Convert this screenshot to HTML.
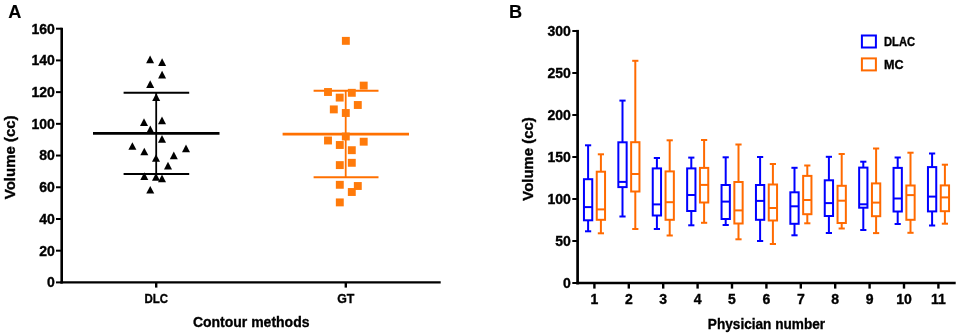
<!DOCTYPE html>
<html><head><meta charset="utf-8"><style>
html,body{margin:0;padding:0;background:#fff;width:957px;height:333px;overflow:hidden}
svg{display:block;will-change:transform}
text{font-family:"Liberation Sans", sans-serif;font-weight:bold;fill:#000;stroke:#000;stroke-width:0.35px}
</style></head><body>
<svg width="957" height="333" viewBox="0 0 957 333">
<rect width="957" height="333" fill="#fff"/>
<text x="8.2" y="17.8" font-size="18.2" text-anchor="start" style="stroke-width:0.1px">A</text>
<line x1="61.7" y1="27.8" x2="61.7" y2="283.6" stroke="#000" stroke-width="2.6" stroke-linecap="butt"/>
<line x1="60.4" y1="282.4" x2="440.7" y2="282.4" stroke="#000" stroke-width="2.4" stroke-linecap="butt"/>
<line x1="56.0" y1="282.4" x2="61.7" y2="282.4" stroke="#000" stroke-width="2.0" stroke-linecap="butt"/>
<text x="54.8" y="287.29999999999995" font-size="14" text-anchor="end">0</text>
<line x1="56.0" y1="250.68749999999997" x2="61.7" y2="250.68749999999997" stroke="#000" stroke-width="2.0" stroke-linecap="butt"/>
<text x="54.8" y="255.58749999999998" font-size="14" text-anchor="end">20</text>
<line x1="56.0" y1="218.97499999999997" x2="61.7" y2="218.97499999999997" stroke="#000" stroke-width="2.0" stroke-linecap="butt"/>
<text x="54.8" y="223.87499999999997" font-size="14" text-anchor="end">40</text>
<line x1="56.0" y1="187.2625" x2="61.7" y2="187.2625" stroke="#000" stroke-width="2.0" stroke-linecap="butt"/>
<text x="54.8" y="192.1625" font-size="14" text-anchor="end">60</text>
<line x1="56.0" y1="155.54999999999998" x2="61.7" y2="155.54999999999998" stroke="#000" stroke-width="2.0" stroke-linecap="butt"/>
<text x="54.8" y="160.45" font-size="14" text-anchor="end">80</text>
<line x1="56.0" y1="123.83749999999998" x2="61.7" y2="123.83749999999998" stroke="#000" stroke-width="2.0" stroke-linecap="butt"/>
<text x="54.8" y="128.73749999999998" font-size="14" text-anchor="end">100</text>
<line x1="56.0" y1="92.12499999999997" x2="61.7" y2="92.12499999999997" stroke="#000" stroke-width="2.0" stroke-linecap="butt"/>
<text x="54.8" y="97.02499999999998" font-size="14" text-anchor="end">120</text>
<line x1="56.0" y1="60.412499999999966" x2="61.7" y2="60.412499999999966" stroke="#000" stroke-width="2.0" stroke-linecap="butt"/>
<text x="54.8" y="65.31249999999997" font-size="14" text-anchor="end">140</text>
<line x1="56.0" y1="28.69999999999999" x2="61.7" y2="28.69999999999999" stroke="#000" stroke-width="2.0" stroke-linecap="butt"/>
<text x="54.8" y="33.59999999999999" font-size="14" text-anchor="end">160</text>
<line x1="156.2" y1="282.4" x2="156.2" y2="287.6" stroke="#000" stroke-width="2.4" stroke-linecap="butt"/>
<text x="156.2" y="302.8" font-size="13.4" text-anchor="middle" textLength="23.6" lengthAdjust="spacingAndGlyphs">DLC</text>
<line x1="345.8" y1="282.4" x2="345.8" y2="287.6" stroke="#000" stroke-width="2.4" stroke-linecap="butt"/>
<text x="345.8" y="302.8" font-size="13.4" text-anchor="middle" textLength="17.2" lengthAdjust="spacingAndGlyphs">GT</text>
<text x="251.2" y="326.8" font-size="14.7" text-anchor="middle" textLength="116.6" lengthAdjust="spacingAndGlyphs">Contour methods</text>
<text transform="translate(15.0,157.3) rotate(-90)" x="0" y="0" font-size="14.8" text-anchor="middle" textLength="83.8" lengthAdjust="spacingAndGlyphs">Volume (cc)</text>
<line x1="123.6" y1="92.8" x2="189.2" y2="92.8" stroke="#000" stroke-width="2.0" stroke-linecap="butt"/>
<line x1="123.6" y1="173.9" x2="189.2" y2="173.9" stroke="#000" stroke-width="2.0" stroke-linecap="butt"/>
<line x1="156.2" y1="92.8" x2="156.2" y2="173.9" stroke="#000" stroke-width="1.8" stroke-linecap="butt"/>
<line x1="93" y1="133.4" x2="219.5" y2="133.4" stroke="#000" stroke-width="2.7" stroke-linecap="butt"/>
<polygon points="146.10,63.30 154.10,63.30 150.10,55.60" fill="#000"/>
<polygon points="158.10,65.90 166.10,65.90 162.10,58.20" fill="#000"/>
<polygon points="158.10,78.45 166.10,78.45 162.10,70.75" fill="#000"/>
<polygon points="146.20,88.05 154.20,88.05 150.20,80.35" fill="#000"/>
<polygon points="152.20,101.05 160.20,101.05 156.20,93.35" fill="#000"/>
<polygon points="140.00,126.05 148.00,126.05 144.00,118.35" fill="#000"/>
<polygon points="158.00,124.15 166.00,124.15 162.00,116.45" fill="#000"/>
<polygon points="146.30,133.25 154.30,133.25 150.30,125.55" fill="#000"/>
<polygon points="158.00,142.65 166.00,142.65 162.00,134.95" fill="#000"/>
<polygon points="128.40,149.85 136.40,149.85 132.40,142.15" fill="#000"/>
<polygon points="140.30,155.35 148.30,155.35 144.30,147.65" fill="#000"/>
<polygon points="182.00,152.25 190.00,152.25 186.00,144.55" fill="#000"/>
<polygon points="152.00,161.85 160.00,161.85 156.00,154.15" fill="#000"/>
<polygon points="169.80,159.25 177.80,159.25 173.80,151.55" fill="#000"/>
<polygon points="164.00,169.55 172.00,169.55 168.00,161.85" fill="#000"/>
<polygon points="140.30,180.05 148.30,180.05 144.30,172.35" fill="#000"/>
<polygon points="152.00,180.65 160.00,180.65 156.00,172.95" fill="#000"/>
<polygon points="158.00,182.25 166.00,182.25 162.00,174.55" fill="#000"/>
<polygon points="146.25,193.60 154.25,193.60 150.25,185.90" fill="#000"/>
<line x1="313.6" y1="90.8" x2="378.5" y2="90.8" stroke="#FF7000" stroke-width="2.0" stroke-linecap="butt"/>
<line x1="313.6" y1="177.2" x2="378.5" y2="177.2" stroke="#FF7000" stroke-width="2.0" stroke-linecap="butt"/>
<line x1="345.7" y1="90.8" x2="345.7" y2="177.2" stroke="#FF7000" stroke-width="1.8" stroke-linecap="butt"/>
<line x1="282.6" y1="134.1" x2="409" y2="134.1" stroke="#FF7000" stroke-width="2.6" stroke-linecap="butt"/>
<rect x="341.90" y="36.90" width="7.9" height="7.9" fill="#FF7A0A"/>
<rect x="359.75" y="81.65" width="7.9" height="7.9" fill="#FF7A0A"/>
<rect x="324.05" y="88.05" width="7.9" height="7.9" fill="#FF7A0A"/>
<rect x="347.85" y="88.85" width="7.9" height="7.9" fill="#FF7A0A"/>
<rect x="335.75" y="93.65" width="7.9" height="7.9" fill="#FF7A0A"/>
<rect x="353.85" y="101.05" width="7.9" height="7.9" fill="#FF7A0A"/>
<rect x="329.85" y="105.45" width="7.9" height="7.9" fill="#FF7A0A"/>
<rect x="341.85" y="109.05" width="7.9" height="7.9" fill="#FF7A0A"/>
<rect x="341.85" y="132.55" width="7.9" height="7.9" fill="#FF7A0A"/>
<rect x="324.05" y="136.55" width="7.9" height="7.9" fill="#FF7A0A"/>
<rect x="359.75" y="137.75" width="7.9" height="7.9" fill="#FF7A0A"/>
<rect x="335.85" y="141.05" width="7.9" height="7.9" fill="#FF7A0A"/>
<rect x="347.85" y="146.25" width="7.9" height="7.9" fill="#FF7A0A"/>
<rect x="347.85" y="158.85" width="7.9" height="7.9" fill="#FF7A0A"/>
<rect x="335.85" y="161.15" width="7.9" height="7.9" fill="#FF7A0A"/>
<rect x="335.85" y="180.85" width="7.9" height="7.9" fill="#FF7A0A"/>
<rect x="353.85" y="182.05" width="7.9" height="7.9" fill="#FF7A0A"/>
<rect x="347.85" y="188.05" width="7.9" height="7.9" fill="#FF7A0A"/>
<rect x="335.85" y="198.45" width="7.9" height="7.9" fill="#FF7A0A"/>
<text x="508.9" y="17.8" font-size="18.2" text-anchor="start" style="stroke-width:0.1px">B</text>
<line x1="577.6" y1="29.9" x2="577.6" y2="284.4" stroke="#000" stroke-width="2.7" stroke-linecap="butt"/>
<line x1="576.3" y1="283.0" x2="955.7" y2="283.0" stroke="#000" stroke-width="2.6" stroke-linecap="butt"/>
<line x1="572.3" y1="283.0" x2="577.6" y2="283.0" stroke="#000" stroke-width="2.0" stroke-linecap="butt"/>
<text x="570.8" y="288.0" font-size="14" text-anchor="end">0</text>
<line x1="572.3" y1="241.0" x2="577.6" y2="241.0" stroke="#000" stroke-width="2.0" stroke-linecap="butt"/>
<text x="570.8" y="246.0" font-size="14" text-anchor="end">50</text>
<line x1="572.3" y1="199.0" x2="577.6" y2="199.0" stroke="#000" stroke-width="2.0" stroke-linecap="butt"/>
<text x="570.8" y="204.0" font-size="14" text-anchor="end">100</text>
<line x1="572.3" y1="157.0" x2="577.6" y2="157.0" stroke="#000" stroke-width="2.0" stroke-linecap="butt"/>
<text x="570.8" y="162.0" font-size="14" text-anchor="end">150</text>
<line x1="572.3" y1="115.0" x2="577.6" y2="115.0" stroke="#000" stroke-width="2.0" stroke-linecap="butt"/>
<text x="570.8" y="120.0" font-size="14" text-anchor="end">200</text>
<line x1="572.3" y1="73.0" x2="577.6" y2="73.0" stroke="#000" stroke-width="2.0" stroke-linecap="butt"/>
<text x="570.8" y="78.0" font-size="14" text-anchor="end">250</text>
<line x1="572.3" y1="31.0" x2="577.6" y2="31.0" stroke="#000" stroke-width="2.0" stroke-linecap="butt"/>
<text x="570.8" y="36.0" font-size="14" text-anchor="end">300</text>
<line x1="594.4" y1="283.0" x2="594.4" y2="288.6" stroke="#000" stroke-width="2.4" stroke-linecap="butt"/>
<text x="594.4" y="303.8" font-size="14" text-anchor="middle">1</text>
<line x1="628.8" y1="283.0" x2="628.8" y2="288.6" stroke="#000" stroke-width="2.4" stroke-linecap="butt"/>
<text x="628.8" y="303.8" font-size="14" text-anchor="middle">2</text>
<line x1="663.1999999999999" y1="283.0" x2="663.1999999999999" y2="288.6" stroke="#000" stroke-width="2.4" stroke-linecap="butt"/>
<text x="663.1999999999999" y="303.8" font-size="14" text-anchor="middle">3</text>
<line x1="697.5999999999999" y1="283.0" x2="697.5999999999999" y2="288.6" stroke="#000" stroke-width="2.4" stroke-linecap="butt"/>
<text x="697.5999999999999" y="303.8" font-size="14" text-anchor="middle">4</text>
<line x1="732.0" y1="283.0" x2="732.0" y2="288.6" stroke="#000" stroke-width="2.4" stroke-linecap="butt"/>
<text x="732.0" y="303.8" font-size="14" text-anchor="middle">5</text>
<line x1="766.4" y1="283.0" x2="766.4" y2="288.6" stroke="#000" stroke-width="2.4" stroke-linecap="butt"/>
<text x="766.4" y="303.8" font-size="14" text-anchor="middle">6</text>
<line x1="800.8" y1="283.0" x2="800.8" y2="288.6" stroke="#000" stroke-width="2.4" stroke-linecap="butt"/>
<text x="800.8" y="303.8" font-size="14" text-anchor="middle">7</text>
<line x1="835.1999999999999" y1="283.0" x2="835.1999999999999" y2="288.6" stroke="#000" stroke-width="2.4" stroke-linecap="butt"/>
<text x="835.1999999999999" y="303.8" font-size="14" text-anchor="middle">8</text>
<line x1="869.5999999999999" y1="283.0" x2="869.5999999999999" y2="288.6" stroke="#000" stroke-width="2.4" stroke-linecap="butt"/>
<text x="869.5999999999999" y="303.8" font-size="14" text-anchor="middle">9</text>
<line x1="904.0" y1="283.0" x2="904.0" y2="288.6" stroke="#000" stroke-width="2.4" stroke-linecap="butt"/>
<text x="904.0" y="303.8" font-size="14" text-anchor="middle">10</text>
<line x1="938.4" y1="283.0" x2="938.4" y2="288.6" stroke="#000" stroke-width="2.4" stroke-linecap="butt"/>
<text x="938.4" y="303.8" font-size="14" text-anchor="middle">11</text>
<text x="766.5" y="328.8" font-size="14.7" text-anchor="middle" textLength="117.3" lengthAdjust="spacingAndGlyphs">Physician number</text>
<text transform="translate(532.6,159) rotate(-90)" x="0" y="0" font-size="14.8" text-anchor="middle" textLength="83.3" lengthAdjust="spacingAndGlyphs">Volume (cc)</text>
<g stroke="#0000FF" stroke-width="2.0" fill="none">
<line x1="588.1" y1="145.3" x2="588.1" y2="179.2"/>
<line x1="588.1" y1="220.3" x2="588.1" y2="231.3"/>
<line x1="585.00" y1="145.3" x2="591.20" y2="145.3"/>
<line x1="585.00" y1="231.3" x2="591.20" y2="231.3"/>
<rect x="583.95" y="179.2" width="8.3" height="41.10"/>
<line x1="583.95" y1="207.1" x2="592.25" y2="207.1"/>
</g>
<g stroke="#FF6A00" stroke-width="2.0" fill="none">
<line x1="600.9" y1="154.3" x2="600.9" y2="171.7"/>
<line x1="600.9" y1="219.8" x2="600.9" y2="233.3"/>
<line x1="597.80" y1="154.3" x2="604.00" y2="154.3"/>
<line x1="597.80" y1="233.3" x2="604.00" y2="233.3"/>
<rect x="596.75" y="171.7" width="8.3" height="48.10"/>
<line x1="596.75" y1="209.4" x2="605.05" y2="209.4"/>
</g>
<g stroke="#0000FF" stroke-width="2.0" fill="none">
<line x1="622.5" y1="100.6" x2="622.5" y2="142.3"/>
<line x1="622.5" y1="187.1" x2="622.5" y2="216.5"/>
<line x1="619.40" y1="100.6" x2="625.60" y2="100.6"/>
<line x1="619.40" y1="216.5" x2="625.60" y2="216.5"/>
<rect x="618.35" y="142.3" width="8.3" height="44.80"/>
<line x1="618.35" y1="181.9" x2="626.65" y2="181.9"/>
</g>
<g stroke="#FF6A00" stroke-width="2.0" fill="none">
<line x1="635.3" y1="60.8" x2="635.3" y2="142.2"/>
<line x1="635.3" y1="191.5" x2="635.3" y2="229"/>
<line x1="632.20" y1="60.8" x2="638.40" y2="60.8"/>
<line x1="632.20" y1="229" x2="638.40" y2="229"/>
<rect x="631.15" y="142.2" width="8.3" height="49.30"/>
<line x1="631.15" y1="174" x2="639.45" y2="174"/>
</g>
<g stroke="#0000FF" stroke-width="2.0" fill="none">
<line x1="656.9" y1="158" x2="656.9" y2="168.4"/>
<line x1="656.9" y1="215.5" x2="656.9" y2="229"/>
<line x1="653.80" y1="158" x2="660.00" y2="158"/>
<line x1="653.80" y1="229" x2="660.00" y2="229"/>
<rect x="652.75" y="168.4" width="8.3" height="47.10"/>
<line x1="652.75" y1="204.4" x2="661.05" y2="204.4"/>
</g>
<g stroke="#FF6A00" stroke-width="2.0" fill="none">
<line x1="669.7" y1="140.3" x2="669.7" y2="171.4"/>
<line x1="669.7" y1="219.8" x2="669.7" y2="235.5"/>
<line x1="666.60" y1="140.3" x2="672.80" y2="140.3"/>
<line x1="666.60" y1="235.5" x2="672.80" y2="235.5"/>
<rect x="665.55" y="171.4" width="8.3" height="48.40"/>
<line x1="665.55" y1="202.2" x2="673.85" y2="202.2"/>
</g>
<g stroke="#0000FF" stroke-width="2.0" fill="none">
<line x1="691.3" y1="157.6" x2="691.3" y2="168.4"/>
<line x1="691.3" y1="211" x2="691.3" y2="225.3"/>
<line x1="688.20" y1="157.6" x2="694.40" y2="157.6"/>
<line x1="688.20" y1="225.3" x2="694.40" y2="225.3"/>
<rect x="687.15" y="168.4" width="8.3" height="42.60"/>
<line x1="687.15" y1="195" x2="695.45" y2="195"/>
</g>
<g stroke="#FF6A00" stroke-width="2.0" fill="none">
<line x1="704.1" y1="140" x2="704.1" y2="167.9"/>
<line x1="704.1" y1="202.5" x2="704.1" y2="222.8"/>
<line x1="701.00" y1="140" x2="707.20" y2="140"/>
<line x1="701.00" y1="222.8" x2="707.20" y2="222.8"/>
<rect x="699.95" y="167.9" width="8.3" height="34.60"/>
<line x1="699.95" y1="184.9" x2="708.25" y2="184.9"/>
</g>
<g stroke="#0000FF" stroke-width="2.0" fill="none">
<line x1="725.7" y1="157.3" x2="725.7" y2="185"/>
<line x1="725.7" y1="219" x2="725.7" y2="225"/>
<line x1="722.60" y1="157.3" x2="728.80" y2="157.3"/>
<line x1="722.60" y1="225" x2="728.80" y2="225"/>
<rect x="721.55" y="185" width="8.3" height="34.00"/>
<line x1="721.55" y1="201.6" x2="729.85" y2="201.6"/>
</g>
<g stroke="#FF6A00" stroke-width="2.0" fill="none">
<line x1="738.5" y1="144.5" x2="738.5" y2="182"/>
<line x1="738.5" y1="223.5" x2="738.5" y2="239.3"/>
<line x1="735.40" y1="144.5" x2="741.60" y2="144.5"/>
<line x1="735.40" y1="239.3" x2="741.60" y2="239.3"/>
<rect x="734.35" y="182" width="8.3" height="41.50"/>
<line x1="734.35" y1="210.4" x2="742.65" y2="210.4"/>
</g>
<g stroke="#0000FF" stroke-width="2.0" fill="none">
<line x1="760.1" y1="157" x2="760.1" y2="185"/>
<line x1="760.1" y1="219.8" x2="760.1" y2="241"/>
<line x1="757.00" y1="157" x2="763.20" y2="157"/>
<line x1="757.00" y1="241" x2="763.20" y2="241"/>
<rect x="755.95" y="185" width="8.3" height="34.80"/>
<line x1="755.95" y1="200.9" x2="764.25" y2="200.9"/>
</g>
<g stroke="#FF6A00" stroke-width="2.0" fill="none">
<line x1="772.9" y1="164" x2="772.9" y2="184.5"/>
<line x1="772.9" y1="220.5" x2="772.9" y2="244"/>
<line x1="769.80" y1="164" x2="776.00" y2="164"/>
<line x1="769.80" y1="244" x2="776.00" y2="244"/>
<rect x="768.75" y="184.5" width="8.3" height="36.00"/>
<line x1="768.75" y1="208" x2="777.05" y2="208"/>
</g>
<g stroke="#0000FF" stroke-width="2.0" fill="none">
<line x1="794.5" y1="167.8" x2="794.5" y2="192.3"/>
<line x1="794.5" y1="223.8" x2="794.5" y2="235.3"/>
<line x1="791.40" y1="167.8" x2="797.60" y2="167.8"/>
<line x1="791.40" y1="235.3" x2="797.60" y2="235.3"/>
<rect x="790.35" y="192.3" width="8.3" height="31.50"/>
<line x1="790.35" y1="206.3" x2="798.65" y2="206.3"/>
</g>
<g stroke="#FF6A00" stroke-width="2.0" fill="none">
<line x1="807.3" y1="165.5" x2="807.3" y2="175.9"/>
<line x1="807.3" y1="214.2" x2="807.3" y2="223.3"/>
<line x1="804.20" y1="165.5" x2="810.40" y2="165.5"/>
<line x1="804.20" y1="223.3" x2="810.40" y2="223.3"/>
<rect x="803.15" y="175.9" width="8.3" height="38.30"/>
<line x1="803.15" y1="200" x2="811.45" y2="200"/>
</g>
<g stroke="#0000FF" stroke-width="2.0" fill="none">
<line x1="828.9" y1="156.8" x2="828.9" y2="180.3"/>
<line x1="828.9" y1="216" x2="828.9" y2="233"/>
<line x1="825.80" y1="156.8" x2="832.00" y2="156.8"/>
<line x1="825.80" y1="233" x2="832.00" y2="233"/>
<rect x="824.75" y="180.3" width="8.3" height="35.70"/>
<line x1="824.75" y1="203.1" x2="833.05" y2="203.1"/>
</g>
<g stroke="#FF6A00" stroke-width="2.0" fill="none">
<line x1="841.7" y1="154" x2="841.7" y2="185.8"/>
<line x1="841.7" y1="223" x2="841.7" y2="228.5"/>
<line x1="838.60" y1="154" x2="844.80" y2="154"/>
<line x1="838.60" y1="228.5" x2="844.80" y2="228.5"/>
<rect x="837.55" y="185.8" width="8.3" height="37.20"/>
<line x1="837.55" y1="200.7" x2="845.85" y2="200.7"/>
</g>
<g stroke="#0000FF" stroke-width="2.0" fill="none">
<line x1="863.3" y1="161.7" x2="863.3" y2="167.6"/>
<line x1="863.3" y1="207.7" x2="863.3" y2="230"/>
<line x1="860.20" y1="161.7" x2="866.40" y2="161.7"/>
<line x1="860.20" y1="230" x2="866.40" y2="230"/>
<rect x="859.15" y="167.6" width="8.3" height="40.10"/>
<line x1="859.15" y1="204.3" x2="867.45" y2="204.3"/>
</g>
<g stroke="#FF6A00" stroke-width="2.0" fill="none">
<line x1="876.1" y1="148.5" x2="876.1" y2="183.4"/>
<line x1="876.1" y1="216.2" x2="876.1" y2="233.1"/>
<line x1="873.00" y1="148.5" x2="879.20" y2="148.5"/>
<line x1="873.00" y1="233.1" x2="879.20" y2="233.1"/>
<rect x="871.95" y="183.4" width="8.3" height="32.80"/>
<line x1="871.95" y1="202.6" x2="880.25" y2="202.6"/>
</g>
<g stroke="#0000FF" stroke-width="2.0" fill="none">
<line x1="897.7" y1="157.5" x2="897.7" y2="167.9"/>
<line x1="897.7" y1="211.5" x2="897.7" y2="224"/>
<line x1="894.60" y1="157.5" x2="900.80" y2="157.5"/>
<line x1="894.60" y1="224" x2="900.80" y2="224"/>
<rect x="893.55" y="167.9" width="8.3" height="43.60"/>
<line x1="893.55" y1="198.5" x2="901.85" y2="198.5"/>
</g>
<g stroke="#FF6A00" stroke-width="2.0" fill="none">
<line x1="910.5" y1="152.7" x2="910.5" y2="185.5"/>
<line x1="910.5" y1="219.8" x2="910.5" y2="232.8"/>
<line x1="907.40" y1="152.7" x2="913.60" y2="152.7"/>
<line x1="907.40" y1="232.8" x2="913.60" y2="232.8"/>
<rect x="906.35" y="185.5" width="8.3" height="34.30"/>
<line x1="906.35" y1="195.1" x2="914.65" y2="195.1"/>
</g>
<g stroke="#0000FF" stroke-width="2.0" fill="none">
<line x1="932.1" y1="153.5" x2="932.1" y2="167.1"/>
<line x1="932.1" y1="211.4" x2="932.1" y2="225.5"/>
<line x1="929.00" y1="153.5" x2="935.20" y2="153.5"/>
<line x1="929.00" y1="225.5" x2="935.20" y2="225.5"/>
<rect x="927.95" y="167.1" width="8.3" height="44.30"/>
<line x1="927.95" y1="196.6" x2="936.25" y2="196.6"/>
</g>
<g stroke="#FF6A00" stroke-width="2.0" fill="none">
<line x1="944.9" y1="164.7" x2="944.9" y2="185.4"/>
<line x1="944.9" y1="211.2" x2="944.9" y2="223.7"/>
<line x1="941.80" y1="164.7" x2="948.00" y2="164.7"/>
<line x1="941.80" y1="223.7" x2="948.00" y2="223.7"/>
<rect x="940.75" y="185.4" width="8.3" height="25.80"/>
<line x1="940.75" y1="197.4" x2="949.05" y2="197.4"/>
</g>
<rect x="861.9" y="35.5" width="14" height="12" fill="none" stroke="#0000FF" stroke-width="2"/>
<rect x="861.9" y="58.4" width="14" height="12" fill="none" stroke="#FF6A00" stroke-width="2"/>
<text x="884" y="46.2" font-size="12.3" text-anchor="start" textLength="31.1" lengthAdjust="spacingAndGlyphs">DLAC</text>
<text x="884" y="69.2" font-size="12.3" text-anchor="start" textLength="19.6" lengthAdjust="spacingAndGlyphs">MC</text>
</svg>
</body></html>
